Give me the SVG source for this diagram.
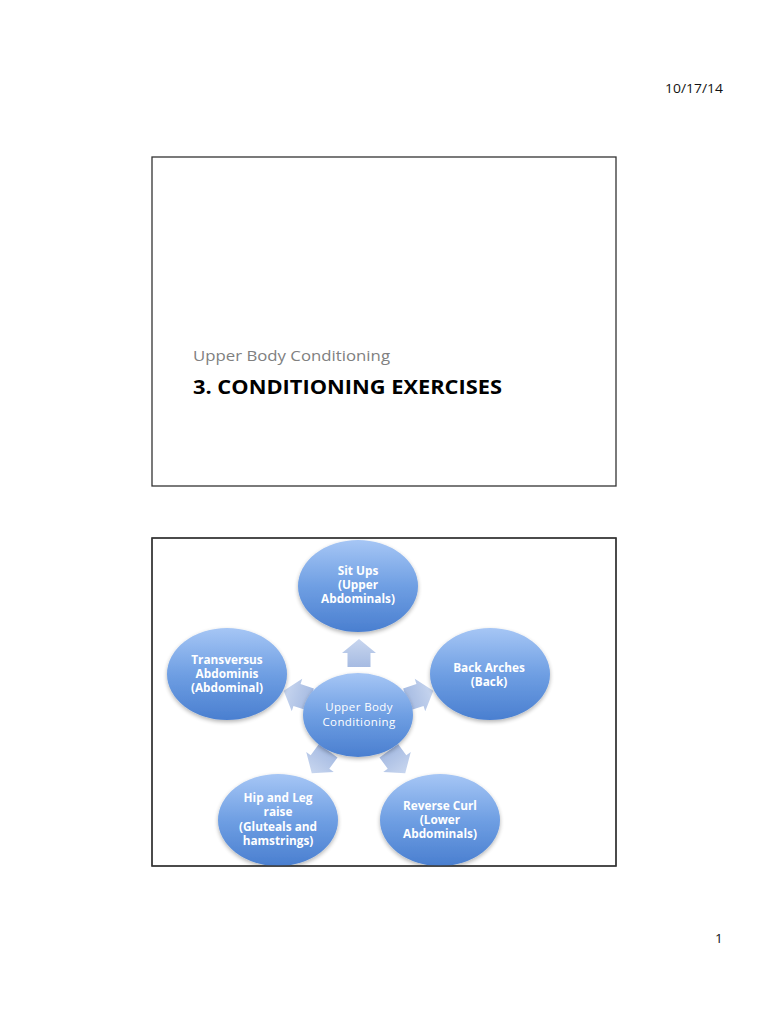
<svg xmlns="http://www.w3.org/2000/svg" width="768" height="1024" viewBox="0 0 768 1024">
<style>
.hdr{font-family:"Open Sans","Liberation Sans",sans-serif;font-size:13.5px;fill:#111;}
.nt{font-family:"Open Sans","Liberation Sans",sans-serif;font-size:11.8px;font-weight:bold;fill:#fff;text-anchor:middle;}
.ct{font-family:"Open Sans","Liberation Sans",sans-serif;font-size:11.5px;fill:#fff;text-anchor:middle;letter-spacing:0.4px;}
.frame{fill:#fff;stroke:#333;stroke-width:1.3;}
.node{fill:url(#ng);filter:url(#sh);}
.arr{fill:url(#ag);}
</style>
<defs>
<linearGradient id="ng" x1="0" y1="0" x2="0" y2="1">
<stop offset="0" stop-color="#a6c6f5"/>
<stop offset="0.5" stop-color="#6f9fe3"/>
<stop offset="1" stop-color="#4a7fd0"/>
</linearGradient>
<linearGradient id="ag" x1="0" y1="0" x2="0" y2="1">
<stop offset="0" stop-color="#c8d6ef"/>
<stop offset="1" stop-color="#a6bbe2"/>
</linearGradient>
<filter id="sh" x="-20%" y="-20%" width="140%" height="150%">
<feGaussianBlur in="SourceAlpha" stdDeviation="2"/>
<feOffset dy="2" result="b"/>
<feComponentTransfer><feFuncA type="linear" slope="0.3"/></feComponentTransfer>
<feMerge><feMergeNode/><feMergeNode in="SourceGraphic"/></feMerge>
</filter>
<clipPath id="fc"><rect x="152" y="538" width="464" height="328"/></clipPath>
<polygon id="arrow" points="-11.5,14 -11.5,0 -17,0 0,-14 17,0 11.5,0 11.5,14"/>
</defs>
<rect width="768" height="1024" fill="#fff"/>
<text class="hdr" x="665" y="93" textLength="58" lengthAdjust="spacingAndGlyphs">10/17/14</text>
<text class="hdr" x="715" y="943">1</text>

<g id="slide1">
<rect class="frame" x="152" y="157" width="464" height="329"/>
<text x="193" y="361" font-family="Open Sans, Liberation Sans, sans-serif" font-size="15" fill="#808080" textLength="197" lengthAdjust="spacingAndGlyphs">Upper Body Conditioning</text>
<text x="193" y="394" font-family="Open Sans, Liberation Sans, sans-serif" font-size="20" font-weight="bold" fill="#000" textLength="309" lengthAdjust="spacingAndGlyphs">3. CONDITIONING EXERCISES</text>
</g>

<rect class="frame" x="152" y="538" width="464" height="328"/>
<g clip-path="url(#fc)">
<g id="connectors">
<use href="#arrow" class="arr" transform="translate(359,653)"/>
<use href="#arrow" class="arr" transform="translate(420,695) rotate(72)"/>
<use href="#arrow" class="arr" transform="translate(397,762) rotate(144)"/>
<use href="#arrow" class="arr" transform="translate(320,762) rotate(-144)"/>
<use href="#arrow" class="arr" transform="translate(297,695) rotate(-72)"/>
</g>
<g id="center">
<ellipse class="node" cx="358" cy="715" rx="55" ry="42"/>
<text class="ct" x="359" y="711">Upper Body</text>
<text class="ct" x="359" y="725.5">Conditioning</text>
</g>
<g id="situps">
<ellipse class="node" cx="358" cy="586" rx="60" ry="46"/>
<text class="nt" x="358" y="575">Sit Ups</text>
<text class="nt" x="358" y="589">(Upper</text>
<text class="nt" x="358" y="603">Abdominals)</text>
</g>
<g id="backarches">
<ellipse class="node" cx="490" cy="674" rx="60" ry="46"/>
<text class="nt" x="489" y="672">Back Arches</text>
<text class="nt" x="489" y="686">(Back)</text>
</g>
<g id="reversecurl">
<ellipse class="node" cx="440" cy="820" rx="60" ry="46"/>
<text class="nt" x="440" y="810">Reverse Curl</text>
<text class="nt" x="440" y="824">(Lower</text>
<text class="nt" x="440" y="838">Abdominals)</text>
</g>
<g id="hipleg">
<ellipse class="node" cx="278" cy="820" rx="60" ry="46"/>
<text class="nt" x="278" y="802">Hip and Leg</text>
<text class="nt" x="278" y="816">raise</text>
<text class="nt" x="278" y="831">(Gluteals and</text>
<text class="nt" x="278" y="845">hamstrings)</text>
</g>
<g id="transversus">
<ellipse class="node" cx="227" cy="674" rx="60" ry="46"/>
<text class="nt" x="227" y="664">Transversus</text>
<text class="nt" x="227" y="678">Abdominis</text>
<text class="nt" x="227" y="692">(Abdominal)</text>
</g>
</g>
<rect x="152" y="538" width="464" height="328" fill="none" stroke="#333" stroke-width="1.3"/>
</svg>
